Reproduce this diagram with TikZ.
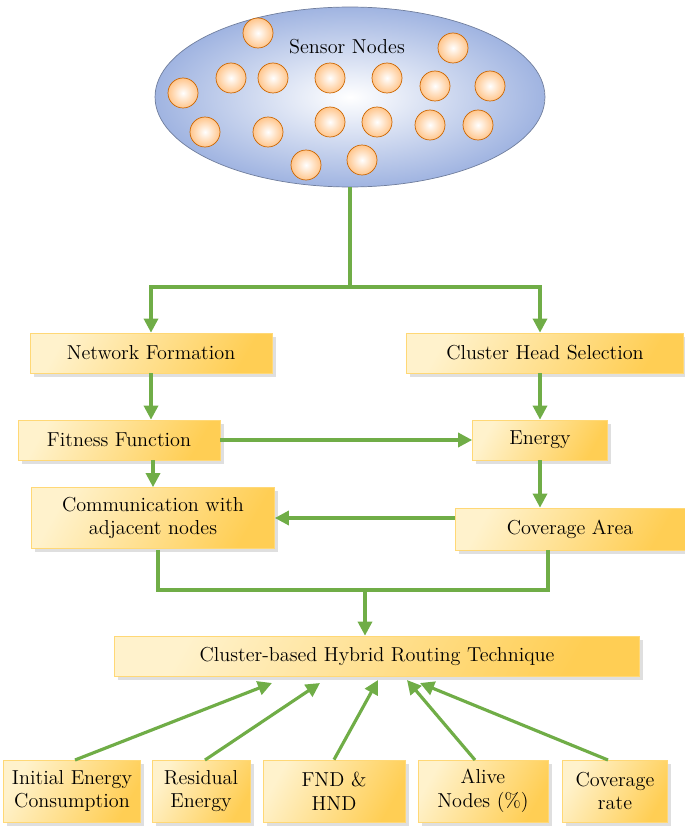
\documentclass[tikz,border=0pt]{standalone}
\usepackage{times}
\usetikzlibrary{arrows.meta}
\usetikzlibrary{shapes.geometric}
\usetikzlibrary{shadows}
\definecolor{linkgreen}{RGB}{112,173,71}
\definecolor{boxlight}{RGB}{255,242,204}
\definecolor{boxdark}{RGB}{255,206,84}
\definecolor{fieldblue}{RGB}{160,180,225}
\begin{document}
\begin{tikzpicture}[x=0.02cm,y=-0.02cm,
      stage/.style={rectangle, draw=boxdark!80!white, left color=boxlight, right color=boxdark,
        shading angle=60, drop shadow={opacity=0.25}, align=center,
        font=\fontsize{11.5}{13.5}\selectfont},
      sensor/.style={circle, draw=orange!80!black, thin, inner color=white, outer color=orange!45, minimum size=0.6cm},
      link/.style={-{Triangle[length=8pt,width=8pt]}, linkgreen, line width=1.8pt},
      plain/.style={linkgreen, line width=1.8pt}
      ]
      \useasboundingbox (0,0) rectangle (685,828);

      % Sensor field
      \node[ellipse, draw=fieldblue!70!black, inner color=white, outer color=fieldblue,
            minimum width=7.8cm, minimum height=3.6cm] (field) at (350,97) {};
      \node[font=\fontsize{11.5}{13.5}\selectfont] (title) at (347,47) {Sensor Nodes};
      \foreach \px/\py [count=\i] in {258/33,453/48,183/93,231/78,273/78,330/78,387/78,435/86,490/86,
                                      205/132,268/132,330/122,377/122,430/125,478/125,306/165,362/160}
        \node[sensor] (s\i) at (\px,\py) {};

      % Nodes
      \node[stage, minimum width=4.84cm, minimum height=0.8cm] (net) at (151,353) {Network Formation};
      \node[stage, minimum width=5.54cm, minimum height=0.8cm] (chs) at (545,353) {Cluster Head Selection};
      \node[stage, minimum width=4.04cm, minimum height=0.8cm] (fit) at (119,440) {Fitness Function};
      \node[stage, minimum width=2.7cm, minimum height=0.8cm] (energy) at (540,440) {Energy};
      \node[stage, minimum width=4.86cm, minimum height=1.22cm] (comm) at (153,518) {Communication with\\adjacent nodes};
      \node[stage, minimum width=4.6cm, minimum height=0.84cm] (cov) at (570,529) {Coverage Area};
      \node[stage, minimum width=10.5cm, minimum height=0.8cm] (chrt) at (377,656) {Cluster-based Hybrid Routing Technique};

      \node[stage, minimum width=2.74cm, minimum height=1.24cm] (ie) at (72,791) {Initial Energy\\Consumption};
      \node[stage, minimum width=1.96cm, minimum height=1.24cm] (re) at (201,791) {Residual\\Energy};
      \node[stage, minimum width=2.84cm, minimum height=1.24cm] (fnd) at (334,791) {FND \&\\HND};
      \node[stage, minimum width=2.6cm, minimum height=1.24cm] (alive) at (483,791) {Alive\\Nodes (\%)};
      \node[stage, minimum width=2.1cm, minimum height=1.24cm] (cr) at (615,791) {Coverage\\rate};

      % Helper points
      \coordinate (split) at (350,287);
      \coordinate (merge) at (365,590);
      \coordinate (commout) at (158,550);
      \coordinate (covout) at (548,550);
      \coordinate (ietop) at (75,760);
      \coordinate (retop) at (205,760);
      \coordinate (alivetop) at (475,760);
      \coordinate (crtop) at (608,760);

      % Arrows
      \draw[plain] (field.south) -- (split);
      \draw[link] (split) -| (net.north);
      \draw[link] (split) -| (chs.north-|energy.north);
      \draw[link] (net.south) -- (net.south|-fit.north);
      \draw[link] (chs.south-|energy.north) -- (energy.north);
      \draw[link] (fit.east) -- (energy.west);
      \draw[link] (comm.north|-fit.south) -- (comm.north);
      \draw[link] (energy.south) -- (energy.south|-cov.north);
      \draw[link] (cov.west|-comm.east) -- (comm.east);
      \draw[plain] (commout) |- (merge) -| (covout);
      \draw[link] (merge) -- (merge|-chrt.north);

      \draw[link] (ietop) -- (272,683);
      \draw[link] (retop) -- (320,683);
      \draw[link] (fnd.north) -- (378,680);
      \draw[link] (alivetop) -- (407,680);
      \draw[link] (crtop) -- (420,683);

    \end{tikzpicture}
\end{document}
